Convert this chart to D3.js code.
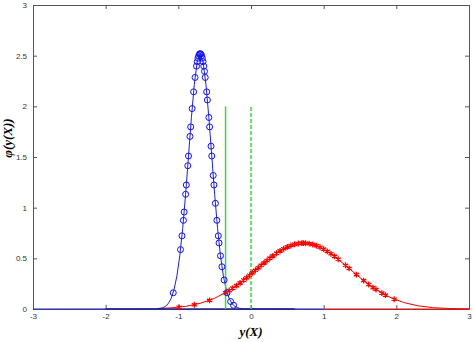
<!DOCTYPE html>
<html>
<head>
<meta charset="utf-8">
<script src="https://cdn.jsdelivr.net/npm/d3@7"></script>
<style>
  body { margin: 0; background: #fff; }
  svg text { font-family: "Liberation Sans", Arial, sans-serif; }
</style>
</head>
<body>
<svg id="chart" width="474" height="342"></svg>
<script>
// blue density (line)
const blueX = [-3, -1.3, -1.22, -1.18, -1.14, -1.1, -1.06, -1.02, -0.98, -0.94, -0.9, -0.86, -0.82, -0.78, -0.74, -0.7,
  -0.66, -0.62, -0.58, -0.54, -0.5, -0.46, -0.42, -0.38, -0.34, -0.3, -0.26, -0.22, -0.18, -0.14, -0.1, 1.0];
const blueY = [0, 0.001, 0.011, 0.025, 0.052, 0.103, 0.189, 0.325, 0.525, 0.796, 1.132, 1.51, 1.89, 2.217, 2.441, 2.52,
  2.441, 2.217, 1.89, 1.51, 1.132, 0.796, 0.525, 0.325, 0.189, 0.103, 0.052, 0.025, 0.011, 0.005, 0.002, 0];
// blue sample points (circles)
const blueMarkX = [-1.07, -0.97, -0.95, -0.93, -0.92, -0.9, -0.89, -0.87, -0.86, -0.84, -0.83, -0.81, -0.79, -0.77, -0.75,
  -0.74, -0.73, -0.72, -0.71, -0.7, -0.69, -0.68, -0.67, -0.66, -0.65, -0.64, -0.63, -0.61, -0.6, -0.58, -0.57, -0.55,
  -0.54, -0.52, -0.51, -0.49, -0.47, -0.45, -0.44, -0.42, -0.4, -0.37, -0.33, -0.28, -0.24];
const blueMarkY = [0.16, 0.586, 0.722, 0.875, 0.957, 1.132, 1.224, 1.414, 1.51, 1.703, 1.797, 1.978, 2.143, 2.285, 2.397,
  2.441, 2.475, 2.5, 2.515, 2.52, 2.515, 2.5, 2.475, 2.441, 2.397, 2.345, 2.285, 2.143, 2.063, 1.89, 1.797, 1.607,
  1.51, 1.318, 1.224, 1.043, 0.875, 0.722, 0.652, 0.525, 0.417, 0.286, 0.16, 0.074, 0.037];

// red density (line)
const redX = [-1.3, -1.1, -0.9, -0.7, -0.5, -0.3, -0.1, 0.1, 0.3, 0.5, 0.72, 0.9, 1.1, 1.3, 1.5, 1.7, 1.9, 2.1, 2.3, 2.5, 2.7, 2.9, 3.0];
const redY = [0.0045, 0.0114, 0.026, 0.056, 0.106, 0.183, 0.286, 0.407, 0.524, 0.613, 0.65, 0.625, 0.545, 0.431, 0.309, 0.201, 0.119, 0.064, 0.031, 0.0136, 0.0054, 0.002, 0.0012];
// red sample points (stars)
const redMarkX = [-0.99, -0.78, -0.57, -0.35, -0.3, -0.25, -0.2, -0.15, -0.1, -0.06, -0.02, 0.02, 0.06, 0.1, 0.14, 0.18,
  0.22, 0.26, 0.3, 0.35, 0.4, 0.45, 0.5, 0.55, 0.6, 0.65, 0.7, 0.72, 0.75, 0.8, 0.85, 0.9, 0.95, 1.0, 1.05, 1.1, 1.15,
  1.2, 1.3, 1.35, 1.45, 1.55, 1.62, 1.68, 1.72, 1.8, 1.85, 1.97];
const redMarkY = [0.018, 0.042, 0.085, 0.161, 0.183, 0.206, 0.231, 0.258, 0.286, 0.309, 0.333, 0.357, 0.382, 0.407, 0.431, 0.455,
  0.479, 0.502, 0.524, 0.55, 0.574, 0.595, 0.613, 0.627, 0.639, 0.646, 0.65, 0.65, 0.649, 0.645, 0.637, 0.625, 0.609, 0.591, 0.569, 0.545, 0.519,
  0.491, 0.431, 0.401, 0.339, 0.28, 0.242, 0.211, 0.192, 0.157, 0.137, 0.097];

// green vertical markers
const greenX = [-0.35, 0.0];
const greenTop = 2.0;

const xTicks = [-3, -2, -1, 0, 1, 2, 3];
const yTicks = [0, 0.5, 1, 1.5, 2, 2.5, 3];

const svg = d3.select("#chart");
const margin = {left: 33, right: 5, top: 5, bottom: 33};
const W = 474, H = 342;

const x = d3.scaleLinear().domain([-3, 3]).range([margin.left, W - margin.right]);
const y = d3.scaleLinear().domain([0, 3]).range([H - margin.bottom, margin.top]);

const axisColor = "#555";
const fmt = d => String(d);

// axes (ticks inside, Matlab-like box)
function styleAxis(g) {
  g.select(".domain").attr("stroke", axisColor);
  g.selectAll(".tick line").attr("stroke", axisColor);
  g.selectAll(".tick text").attr("fill", "#333").attr("font-size", 8);
}
svg.append("g").attr("transform", `translate(0,${y(0)})`)
  .call(d3.axisBottom(x).tickValues(xTicks).tickFormat(fmt).tickSize(-4).tickSizeOuter(0).tickPadding(4))
  .call(styleAxis);
svg.append("g").attr("transform", `translate(0,${y(3)})`)
  .call(d3.axisTop(x).tickValues(xTicks).tickSize(-4).tickSizeOuter(0).tickFormat(""))
  .call(styleAxis);
svg.append("g").attr("transform", `translate(${x(-3)},0)`)
  .call(d3.axisLeft(y).tickValues(yTicks).tickFormat(fmt).tickSize(-4).tickSizeOuter(0).tickPadding(6))
  .call(styleAxis);
svg.append("g").attr("transform", `translate(${x(3)},0)`)
  .call(d3.axisRight(y).tickValues(yTicks).tickSize(-4).tickSizeOuter(0).tickFormat(""))
  .call(styleAxis);

const line = d3.line().x(d => x(d[0])).y(d => y(d[1]));

// red curve
svg.append("path").datum(d3.zip(redX, redY))
  .attr("d", line).attr("fill", "none").attr("stroke", "#ff0000").attr("stroke-width", 1);
svg.append("path").datum([[1.0, 0], [3, 0]])
  .attr("d", line).attr("fill", "none").attr("stroke", "#ff0000").attr("stroke-width", 1);

// blue curve
svg.append("path").datum(d3.zip(blueX, blueY))
  .attr("d", line).attr("fill", "none").attr("stroke", "#2020e0").attr("stroke-width", 1);
svg.append("path").datum([[-2, 0], [0.6, 0]])
  .attr("d", line).attr("fill", "none").attr("stroke", "#202090").attr("stroke-width", 1.5);

// green lines
svg.selectAll(".green").data(greenX).enter().append("line")
  .attr("x1", d => x(d)).attr("x2", d => x(d))
  .attr("y1", y(0)).attr("y2", y(greenTop))
  .attr("stroke", "#33dd33").attr("stroke-width", 1.5)
  .attr("stroke-dasharray", (d, i) => i === 1 ? "4,2" : null);

// blue circles
svg.selectAll(".bc").data(d3.zip(blueMarkX, blueMarkY)).enter().append("circle")
  .attr("cx", d => x(d[0])).attr("cy", d => y(d[1])).attr("r", 3)
  .attr("fill", "none").attr("stroke", "#1010ff").attr("stroke-width", 1);

// red stars
const star = d3.symbol().type(d3.symbolAsterisk).size(24);
svg.selectAll(".rs").data(d3.zip(redMarkX, redMarkY)).enter().append("path")
  .attr("transform", d => `translate(${x(d[0])},${y(d[1])})`)
  .attr("d", star).attr("fill", "none").attr("stroke", "#ff0000").attr("stroke-width", 1.3);

// axis labels
svg.append("text").attr("x", x(0)).attr("y", 336).attr("text-anchor", "middle")
  .style("font-family", "'Liberation Serif', 'Times New Roman', serif")
  .attr("font-size", 13).attr("font-weight", "bold").attr("font-style", "italic")
  .text("y(X)");
svg.append("text").attr("transform", "translate(12,138) rotate(-90)").attr("text-anchor", "middle")
  .style("font-family", "'Liberation Serif', 'Times New Roman', serif")
  .attr("font-size", 13).attr("font-weight", "bold").attr("font-style", "italic")
  .text("φ(y(X))");
</script>
</body>
</html>
